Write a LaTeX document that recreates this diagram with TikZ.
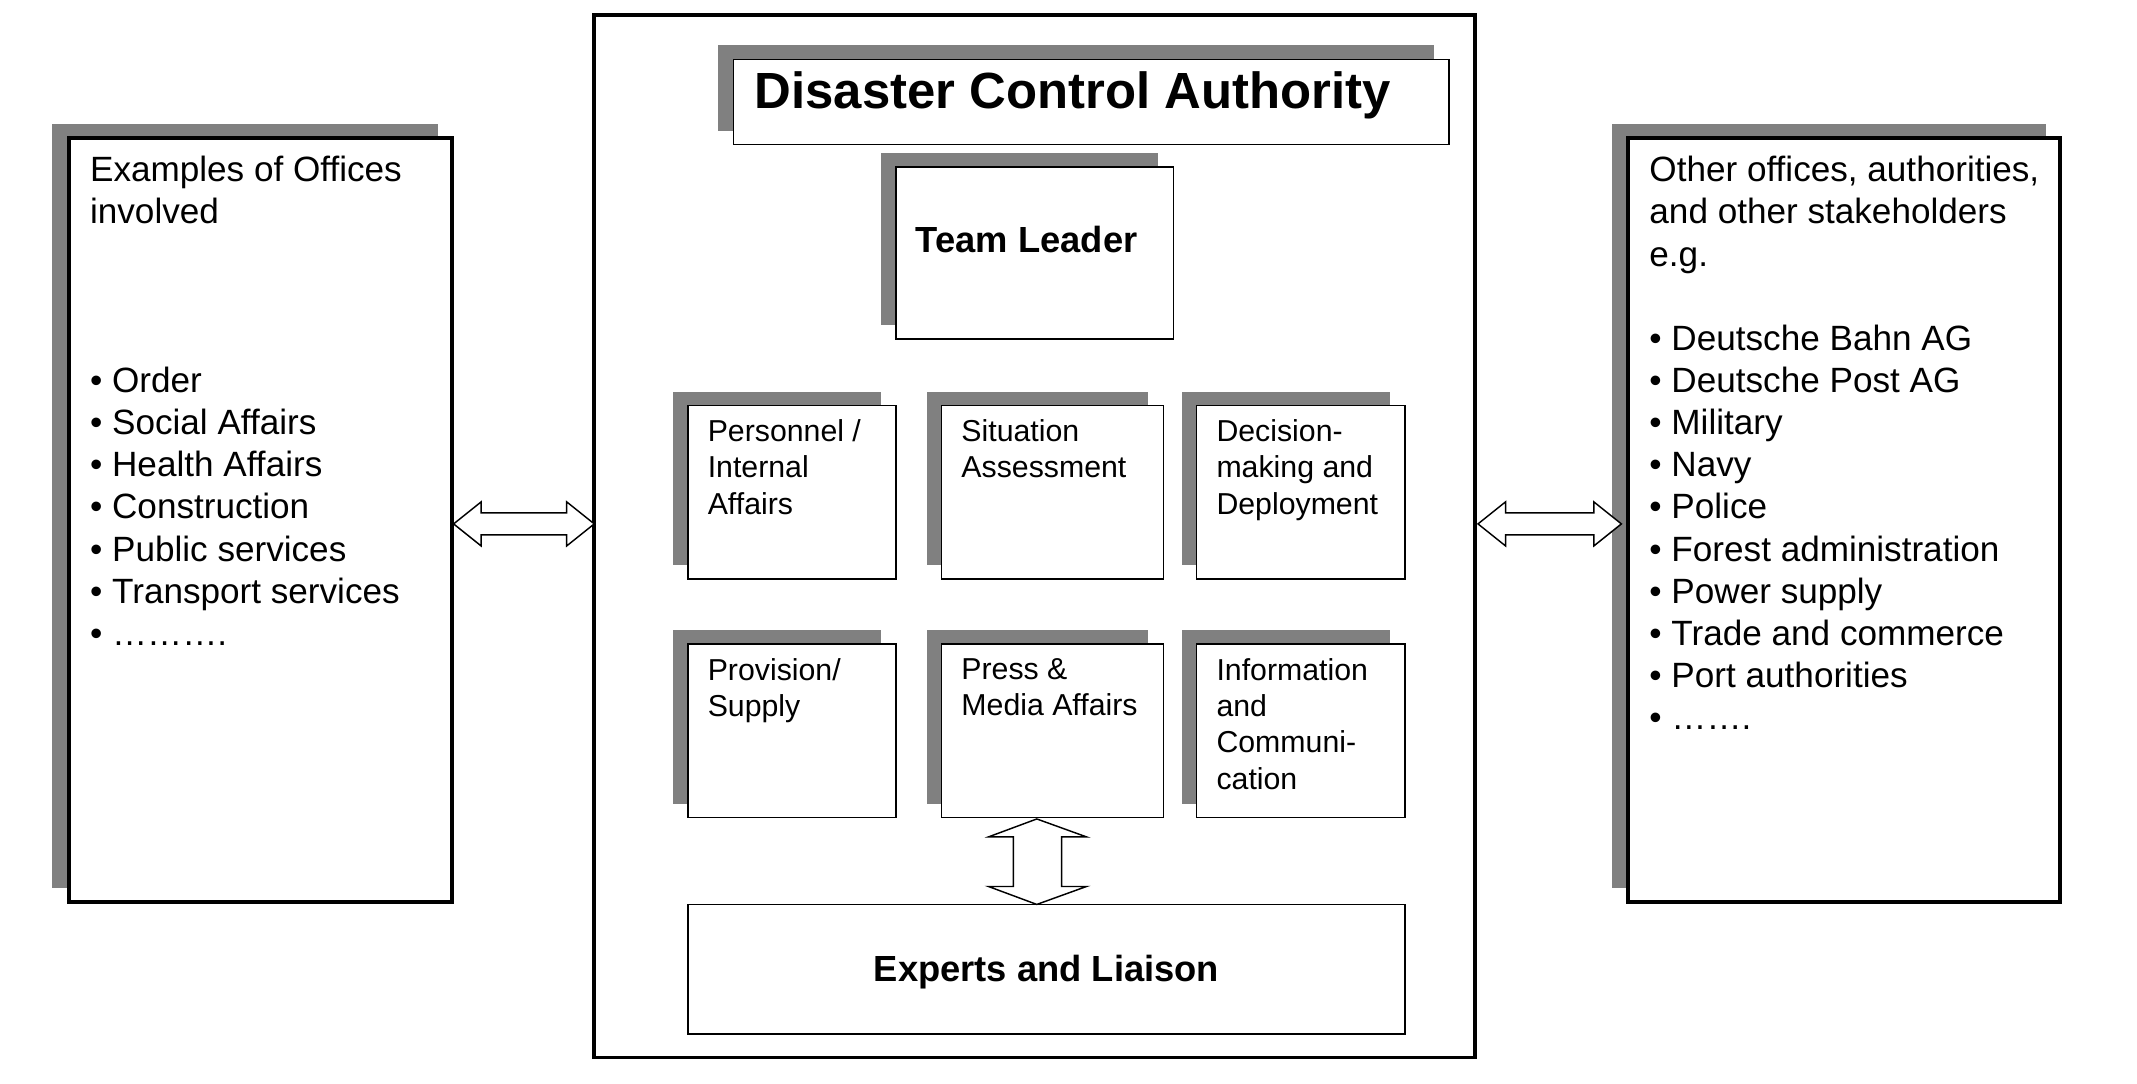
\documentclass[tikz,border=0pt]{standalone}
\usepackage{fontspec}
\setmainfont{Liberation Sans}
\begin{document}
\begin{tikzpicture}[x=0.02cm,y=-0.02cm,
  box/.style={draw=black, fill=white, line width=0.6pt},
  shadow/.style={fill=black!50, draw=none},
  big/.style={font=\fontsize{14.5}{17.4}\selectfont, align=left, anchor=north west, inner sep=0pt},
  small/.style={font=\fontsize{12.5}{15}\selectfont, align=left, anchor=north west, inner sep=0pt},
  arr/.style={draw=black, fill=white, line width=0.6pt}]
\useasboundingbox (0,0) rectangle (1550,786);
% shadowed box: name, x1, y1, x2, y2, shadow dx
\newcommand\shbox[6]{%
  \fill[shadow] (#2-#6,#3-10) rectangle (#4-#6,#5-10);
  \draw[box] (#2,#3) rectangle (#4,#5);
  \coordinate (#1) at (#2,#3);}
% centre frame
\draw[line width=1.6pt] (431,11) rectangle (1070,767);
% outer boxes
\fill[shadow] (38,90) rectangle (318,644);
\draw[box, line width=1.6pt] (50,100) rectangle (328,654);
\coordinate (lbox) at (50,100);
\fill[shadow] (1169,90) rectangle (1484,644);
\draw[box, line width=1.6pt] (1181,100) rectangle (1494,654);
\coordinate (rbox) at (1181,100);
% title and leader
\shbox{title}{532}{43}{1051}{105}{11}
\node[anchor=west, inner sep=0pt, font=\fontsize{21}{25}\selectfont\bfseries] (ttl) at (547,69) {Disaster Control Authority};
\shbox{lead}{650}{121}{851}{246}{11}
\node[anchor=west, inner sep=0pt, font=\fontsize{15}{18}\selectfont\bfseries] (tl) at (664,174) {Team Leader};
% units
\shbox{u1}{499}{294}{650}{420}{11}
\shbox{u2}{683}{294}{844}{420}{11}
\shbox{u3}{868}{294}{1019}{420}{11}
\shbox{u4}{499}{467}{650}{593}{11}
\shbox{u5}{683}{467}{844}{593}{11}
\shbox{u6}{868}{467}{1019}{593}{11}
\node[small] (t1) at (513,304) {Personnel /\\Internal\\Affairs};
\node[small] (t2) at (697,304) {Situation\\Assessment};
\node[small] (t3) at (882,304) {Decision-\\making and\\Deployment};
\node[small] (t4) at (513,477) {Provision/\\Supply};
\node[small] (t5) at (697,477) {Press \&\\Media Affairs};
\node[small] (t6) at (882,477) {Information\\and\\Communi-\\cation};
% experts
\draw[box] (499,656) rectangle (1019,750);
\node[font=\fontsize{15}{18}\selectfont\bfseries] (exp) at (759,705) {Experts and Liaison};
% side texts
\node[big] (lt) at (65,113) {Examples of Offices\\involved\\[52.2pt]
  • Order\\• Social Affairs\\• Health Affairs\\• Construction\\• Public services\\• Transport services\\• ……….};
\node[big] (rt) at (1196,113) {Other offices, authorities,\\and other stakeholders\\e.g.\\[17.4pt]
  • Deutsche Bahn AG\\• Deutsche Post AG\\• Military\\• Navy\\• Police\\• Forest administration\\• Power supply\\• Trade and commerce\\• Port authorities\\• …….};
% double arrows
\draw[arr] (329,380) -- (349,364) -- (349,372) -- (411,372) -- (411,364) -- (431,380)
  -- (411,396) -- (411,388) -- (349,388) -- (349,396) -- cycle;
\draw[arr] (1072,380) -- (1092,364) -- (1092,372) -- (1156,372) -- (1156,364) -- (1176,380)
  -- (1156,396) -- (1156,388) -- (1092,388) -- (1092,396) -- cycle;
\draw[arr] (752,594) -- (788,607) -- (770,607) -- (770,643) -- (788,643) -- (752,656)
  -- (717,643) -- (735,643) -- (735,607) -- (717,607) -- cycle;
\end{tikzpicture}
\end{document}
